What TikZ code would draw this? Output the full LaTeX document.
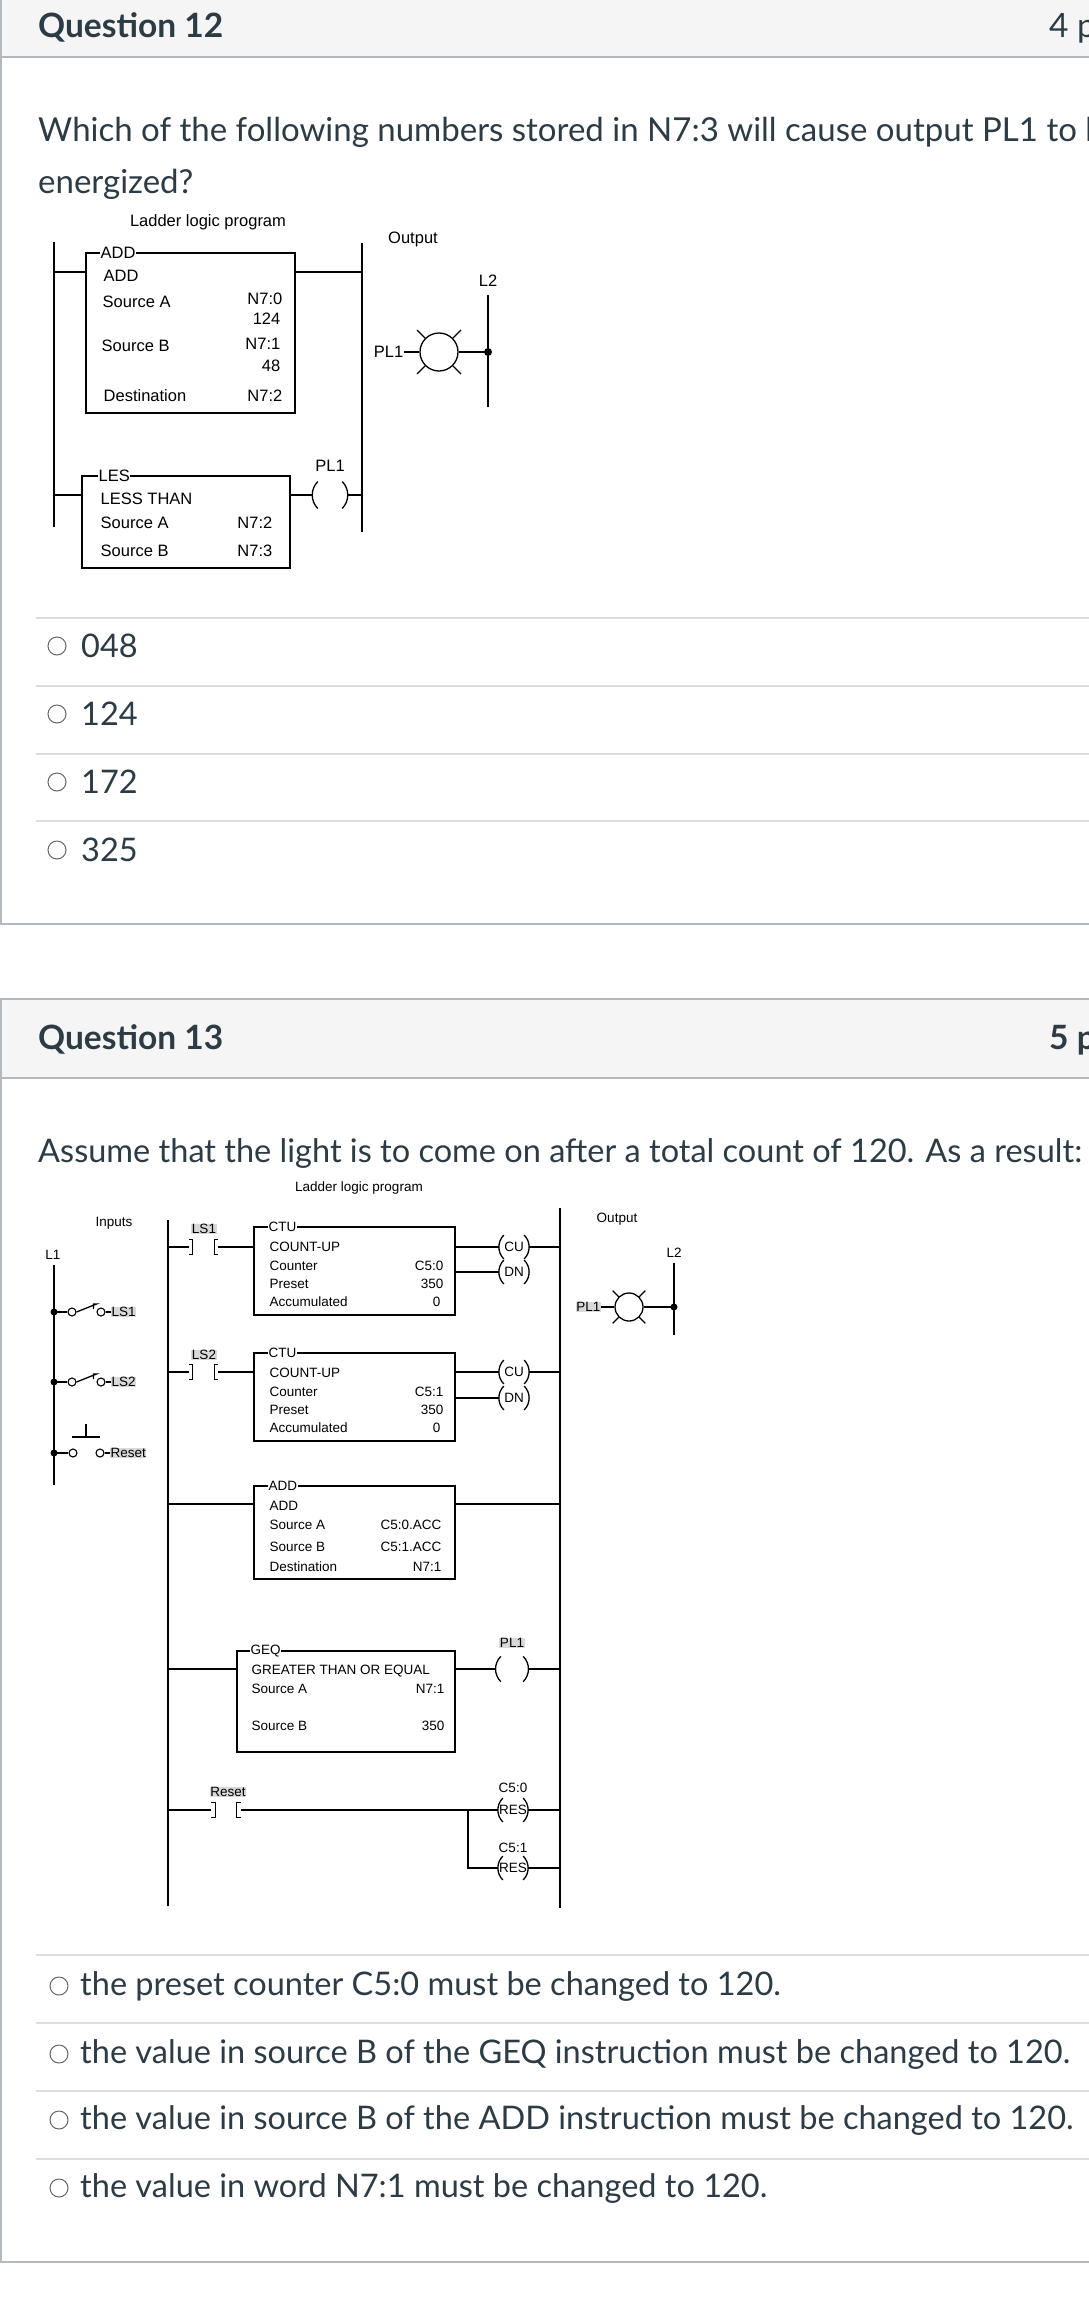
\documentclass[tikz,border=0pt]{standalone}
\usepackage{fontspec}
\setmainfont{Lato}
\newfontfamily\dg{Liberation Sans}
\definecolor{txt}{HTML}{2D3B45}
\definecolor{hdr}{HTML}{F5F5F5}
\definecolor{brd}{HTML}{B4B9BD}
\definecolor{sep}{HTML}{DDDDDD}
\tikzset{
 big/.style={font=\fontsize{32.5}{36}\selectfont, text=txt, inner sep=0pt},
 qhead/.style={font=\fontsize{33.5}{36}\selectfont\bfseries, text=txt, inner sep=0pt},
 d1/.style={font=\dg\fontsize{16.5}{18}\selectfont, inner sep=0.5pt},
 d2/.style={font=\dg\fontsize{13.5}{15}\selectfont, inner sep=0.5pt},
 wire/.style={line width=1.3pt},
 ibox/.style={draw, line width=1.3pt, inner sep=0pt},
 coilnode/.style={minimum width=#1, minimum height=0.78*#1, inner sep=0pt, draw=none},
 contactnode/.style={minimum width=21pt, minimum height=14pt, inner sep=0pt, draw=none},
 hl/.style={fill=gray!30},
 radio/.style={circle, draw=gray!80!black, line width=1pt, minimum size=18pt, inner sep=0pt},
}
\newcommand\coilarcs[1]{%
 \draw[wire] ([xshift=5pt]#1.north west) to[out=225,in=135] ([xshift=5pt]#1.south west);
 \draw[wire] ([xshift=-5pt]#1.north east) to[out=-45,in=45] ([xshift=-5pt]#1.south east);}
\newcommand\contactbr[1]{%
 \draw[wire] ([xshift=-4pt]#1.north west) -- (#1.north west) -- (#1.south west) -- ([xshift=-4pt]#1.south west);
 \draw[wire] ([xshift=4pt]#1.north east) -- (#1.north east) -- (#1.south east) -- ([xshift=4pt]#1.south east);}
\newcommand\lamprays[2]{%
 \draw[wire] (#1.45) -- ++(#2,-#2); \draw[wire] (#1.135) -- ++(-#2,-#2);
 \draw[wire] (#1.-45) -- ++(#2,#2); \draw[wire] (#1.-135) -- ++(-#2,#2);}
\begin{document}
\begin{tikzpicture}[x=1pt,y=-1pt]
\useasboundingbox (0,0) rectangle (1089,2315);
\clip (0,0) rectangle (1089,2315);
\fill[white] (0,0) rectangle (1089,2315);
% ---------- Question 12 frame ----------
\fill[hdr] (1,0) rectangle (1089,57);
\draw[brd, line width=1.5pt] (1,-2) -- (1,924) -- (1095,924);
\draw[brd, line width=1.5pt] (1,57) -- (1095,57);
\node[qhead, anchor=base west] (q12) at (38,38) {Question 12};
\node[qhead, font=\fontsize{33.5}{36}\selectfont, anchor=base west] (p12) at (1049,38) {4 p};
\node[big, font=\fontsize{33}{36}\selectfont, anchor=base west] (t12a) at (38,141) {Which of the following numbers stored in N7:3 will cause output PL1 to be};
\node[big, font=\fontsize{33}{36}\selectfont, anchor=base west] (t12b) at (38,193) {energized?};
% options
\foreach \y in {618,686,754,821} \draw[sep, line width=1.2pt] (36,\y) -- (1095,\y);
\foreach \y/\t/\n in {646/048/a,714/124/b,782/172/c,850/325/d}{
 \node[radio] (r\n) at (57,\y) {};
 \node[big, anchor=west] (o\n) at (81,\y) {\t};}
% ---------- Diagram 1 ----------
\node[d1] (lp1) at (208,222) {Ladder logic program};
\node[d1] (out1) at (413,239) {Output};
\coordinate (L1t) at (54,242); \coordinate (L1b) at (54,527);
\draw[wire] (L1t) -- (L1b);
\coordinate (ORt) at (362,243); \coordinate (ORb) at (362,532);
\draw[wire] (ORt) -- (ORb);
% ADD box
\draw[ibox] (86,253) rectangle (295,413);
\coordinate (addL) at (86,272); \coordinate (addR) at (295,272);
\draw[wire] (54,272) -- (addL); \draw[wire] (addR) -- (362,272);
\node[d1, fill=white, anchor=west] (addT) at (100,253) {ADD};
\node[d1, anchor=west] at (103,276) {ADD};
\node[d1, anchor=west] at (102,302) {Source A};
\node[d1, anchor=east] at (283,299) {N7:0};
\node[d1, anchor=east] at (281,319) {124};
\node[d1, anchor=west] at (101,346) {Source B};
\node[d1, anchor=east] at (281,344) {N7:1};
\node[d1, anchor=east] at (281,366) {48};
\node[d1, anchor=west] at (103,396) {Destination};
\node[d1, anchor=east] at (283,396) {N7:2};
% LES box
\draw[ibox] (82,476) rectangle (290,568);
\draw[wire] (54,495) -- (82,495);
\node[d1, fill=white, anchor=west] (lesT) at (98,476) {LES};
\node[d1, anchor=west] at (100,499) {LESS THAN};
\node[d1, anchor=west] at (100,523) {Source A};
\node[d1, anchor=east] at (273,523) {N7:2};
\node[d1, anchor=west] at (100,551) {Source B};
\node[d1, anchor=east] at (273,551) {N7:3};
\node[coilnode=34pt] (c1) at (330,495) {};
\coilarcs{c1}
\draw[wire] (290,495) -- (c1.west); \draw[wire] (c1.east) -- (362,495);
\node[d1] (c1l) at (330,466) {PL1};
% lamp
\node[d1] (L2a) at (488,281) {L2};
\draw[wire] (488,295) -- (488,407);
\node[circle, draw, line width=1.3pt, minimum size=38pt, inner sep=0pt] (lamp1) at (439,352) {};
\lamprays{lamp1}{8}
\fill (488,352) circle (4pt);
\draw[wire] (lamp1.east) -- (488,352);
\node[d1, anchor=east] (pl1a) at (404,352) {PL1};
\draw[wire] (pl1a.east) -- (lamp1.west);
% ---------- Question 13 frame ----------
\fill[hdr] (1,999) rectangle (1089,1078);
\draw[brd, line width=1.5pt] (1095,999) -- (1,999) -- (1,2262) -- (1095,2262);
\draw[brd, line width=1.5pt] (1,1078) -- (1095,1078);
\node[qhead, anchor=base west] (q13) at (38,1049) {Question 13};
\node[qhead, anchor=base west] (p13) at (1049,1049) {5 p};
\node[big, anchor=base west] (t13) at (38,1162) {Assume that the light is to come on after a total count of 120. As a result:};
\foreach \y in {1955,2023,2091,2159} \draw[sep, line width=1.2pt] (36,\y) -- (1095,\y);
\foreach \y/\t/\n in {1986/the preset counter C5:0 must be changed to 120./e,
 2054/the value in source B of the GEQ instruction must be changed to 120./f,
 2120/the value in source B of the ADD instruction must be changed to 120./g,
 2188/the value in word N7:1 must be changed to 120./h}{
 \node[radio] (r\n) at (59,\y) {};
 \node[big, anchor=west] (o\n) at (80,\y) {\t};}
% ---------- Diagram 2 ----------
\node[d2] (lp2) at (359,1188) {Ladder logic program};
\node[d2] (inp) at (114,1223) {Inputs};
\node[d2] (out2) at (617,1219) {Output};
\node[d2] (L1lab) at (53,1255) {L1};
\draw[wire] (54,1265) -- (54,1485);
\draw[wire] (168,1220) -- (168,1906);
\draw[wire] (560,1208) -- (560,1908);
% input switches
\foreach \y/\l/\n in {1312/LS1/s1,1382/LS2/s2}{
 \fill (54,\y) circle (3.5pt);
 \node[circle, draw, line width=1.1pt, minimum size=8pt, inner sep=0pt] (\n a) at (72,\y) {};
 \node[circle, draw, line width=1.1pt, minimum size=8pt, inner sep=0pt] (\n b) at (101,\y) {};
 \draw[wire] (54,\y) -- (\n a.west);
 \draw[wire] (\n a.east) -- ++(20,-8) -- ++(-3,0) -- ++(0,5);
 \node[d2, hl, anchor=west] (\n l) at (111,\y) {\l};
 \draw[wire] (\n b.east) -- (\n l.west);}
\fill (54,1453) circle (3.5pt);
\node[circle, draw, line width=1.1pt, minimum size=8pt, inner sep=0pt] (pba) at (73,1453) {};
\node[circle, draw, line width=1.1pt, minimum size=8pt, inner sep=0pt] (pbb) at (100,1453) {};
\draw[wire] (54,1453) -- (pba.west);
\draw[wire] (72,1437) -- (100,1437); \draw[wire] (86,1437) -- (86,1424);
\node[d2, hl, anchor=west] (rsl) at (110,1453) {Reset};
\draw[wire] (pbb.east) -- (rsl.west);
% CTU boxes
\foreach \top/\rung/\dn/\cn/\lab/\n in {1227/1247/1272/C5:0/LS1/u1, 1353/1372/1398/C5:1/LS2/u2}{
 \node[contactnode] (k\n) at (203.5,\rung) {};
 \contactbr{k\n}
 \draw[wire] (168,\rung) -- ([xshift=-4pt]k\n.west);
 \draw[wire] ([xshift=4pt]k\n.east) -- (254,\rung);
 \node[d2, hl] (kl\n) at (204,\top+2) {\lab};
 \draw[ibox] (254,\top) rectangle (455,\top+88);
 \node[d2, fill=white, anchor=west] at (268,\top) {CTU};
 \node[d2, anchor=west] at (269,\top+20) {COUNT-UP};
 \node[d2, anchor=west] at (269,\top+39) {Counter};
 \node[d2, anchor=east] at (444,\top+39) {\cn};
 \node[d2, anchor=west] at (269,\top+57) {Preset};
 \node[d2, anchor=east] at (444,\top+57) {350};
 \node[d2, anchor=west] at (269,\top+75) {Accumulated};
 \node[d2, anchor=east] at (441,\top+75) {0};
 \node[coilnode=30pt, d2] (cu\n) at (514,\rung) {CU};
 \coilarcs{cu\n}
 \draw[wire] (455,\rung) -- (cu\n.west); \draw[wire] (cu\n.east) -- (560,\rung);
 \node[coilnode=30pt, d2] (dn\n) at (514,\dn) {DN};
 \coilarcs{dn\n}
 \draw[wire] (455,\dn) -- (dn\n.west);}
% lamp 2
\node[d2] (L2b) at (674,1253) {L2};
\draw[wire] (674,1263) -- (674,1335);
\node[circle, draw, line width=1.3pt, minimum size=28pt, inner sep=0pt] (lamp2) at (629,1307) {};
\lamprays{lamp2}{6}
\fill (674,1307) circle (3.5pt);
\draw[wire] (lamp2.east) -- (674,1307);
\node[d2, hl, anchor=east] (pl1b) at (601,1307) {PL1};
\draw[wire] (pl1b.east) -- (lamp2.west);
% ADD box 2
\draw[ibox] (254,1486) rectangle (455,1579);
\draw[wire] (168,1504) -- (254,1504); \draw[wire] (455,1504) -- (560,1504);
\node[d2, fill=white, anchor=west] at (268,1486) {ADD};
\node[d2, anchor=west] at (269,1506) {ADD};
\node[d2, anchor=west] at (269,1525) {Source A};
\node[d2, anchor=east] at (442,1525) {C5:0.ACC};
\node[d2, anchor=west] at (269,1547) {Source B};
\node[d2, anchor=east] at (442,1547) {C5:1.ACC};
\node[d2, anchor=west] at (269,1567) {Destination};
\node[d2, anchor=east] at (442,1567) {N7:1};
% GEQ box
\draw[ibox] (237,1651) rectangle (455,1752);
\draw[wire] (168,1669) -- (237,1669);
\node[d2, fill=white, anchor=west] at (250,1651) {GEQ};
\node[d2, anchor=west] at (251,1671) {GREATER THAN OR EQUAL};
\node[d2, anchor=west] at (251,1689) {Source A};
\node[d2, anchor=east] at (445,1689) {N7:1};
\node[d2, anchor=west] at (251,1726) {Source B};
\node[d2, anchor=east] at (445,1726) {350};
\node[coilnode=32pt] (cg) at (512,1669) {};
\coilarcs{cg}
\draw[wire] (455,1669) -- (cg.west); \draw[wire] (cg.east) -- (560,1669);
\node[d2, hl] (cgl) at (512,1643) {PL1};
% Reset rung
\node[contactnode] (kr) at (226,1810) {};
\contactbr{kr}
\draw[wire] (168,1810) -- ([xshift=-4pt]kr.west);
\node[d2, hl] (krl) at (228,1792) {Reset};
\node[coilnode=30pt, d2] (res0) at (513,1810) {RES};
\coilarcs{res0}
\node[coilnode=30pt, d2] (res1) at (513,1868) {RES};
\coilarcs{res1}
\coordinate (br) at (468,1810);
\draw[wire] ([xshift=4pt]kr.east) -- (br) -- (res0.west);
\draw[wire] (br) -- (468,1868) -- (res1.west);
\draw[wire] (res0.east) -- (560,1810); \draw[wire] (res1.east) -- (560,1868);
\node[d2] at (513,1788) {C5:0};
\node[d2] at (513,1848) {C5:1};
\end{tikzpicture}
\end{document}
